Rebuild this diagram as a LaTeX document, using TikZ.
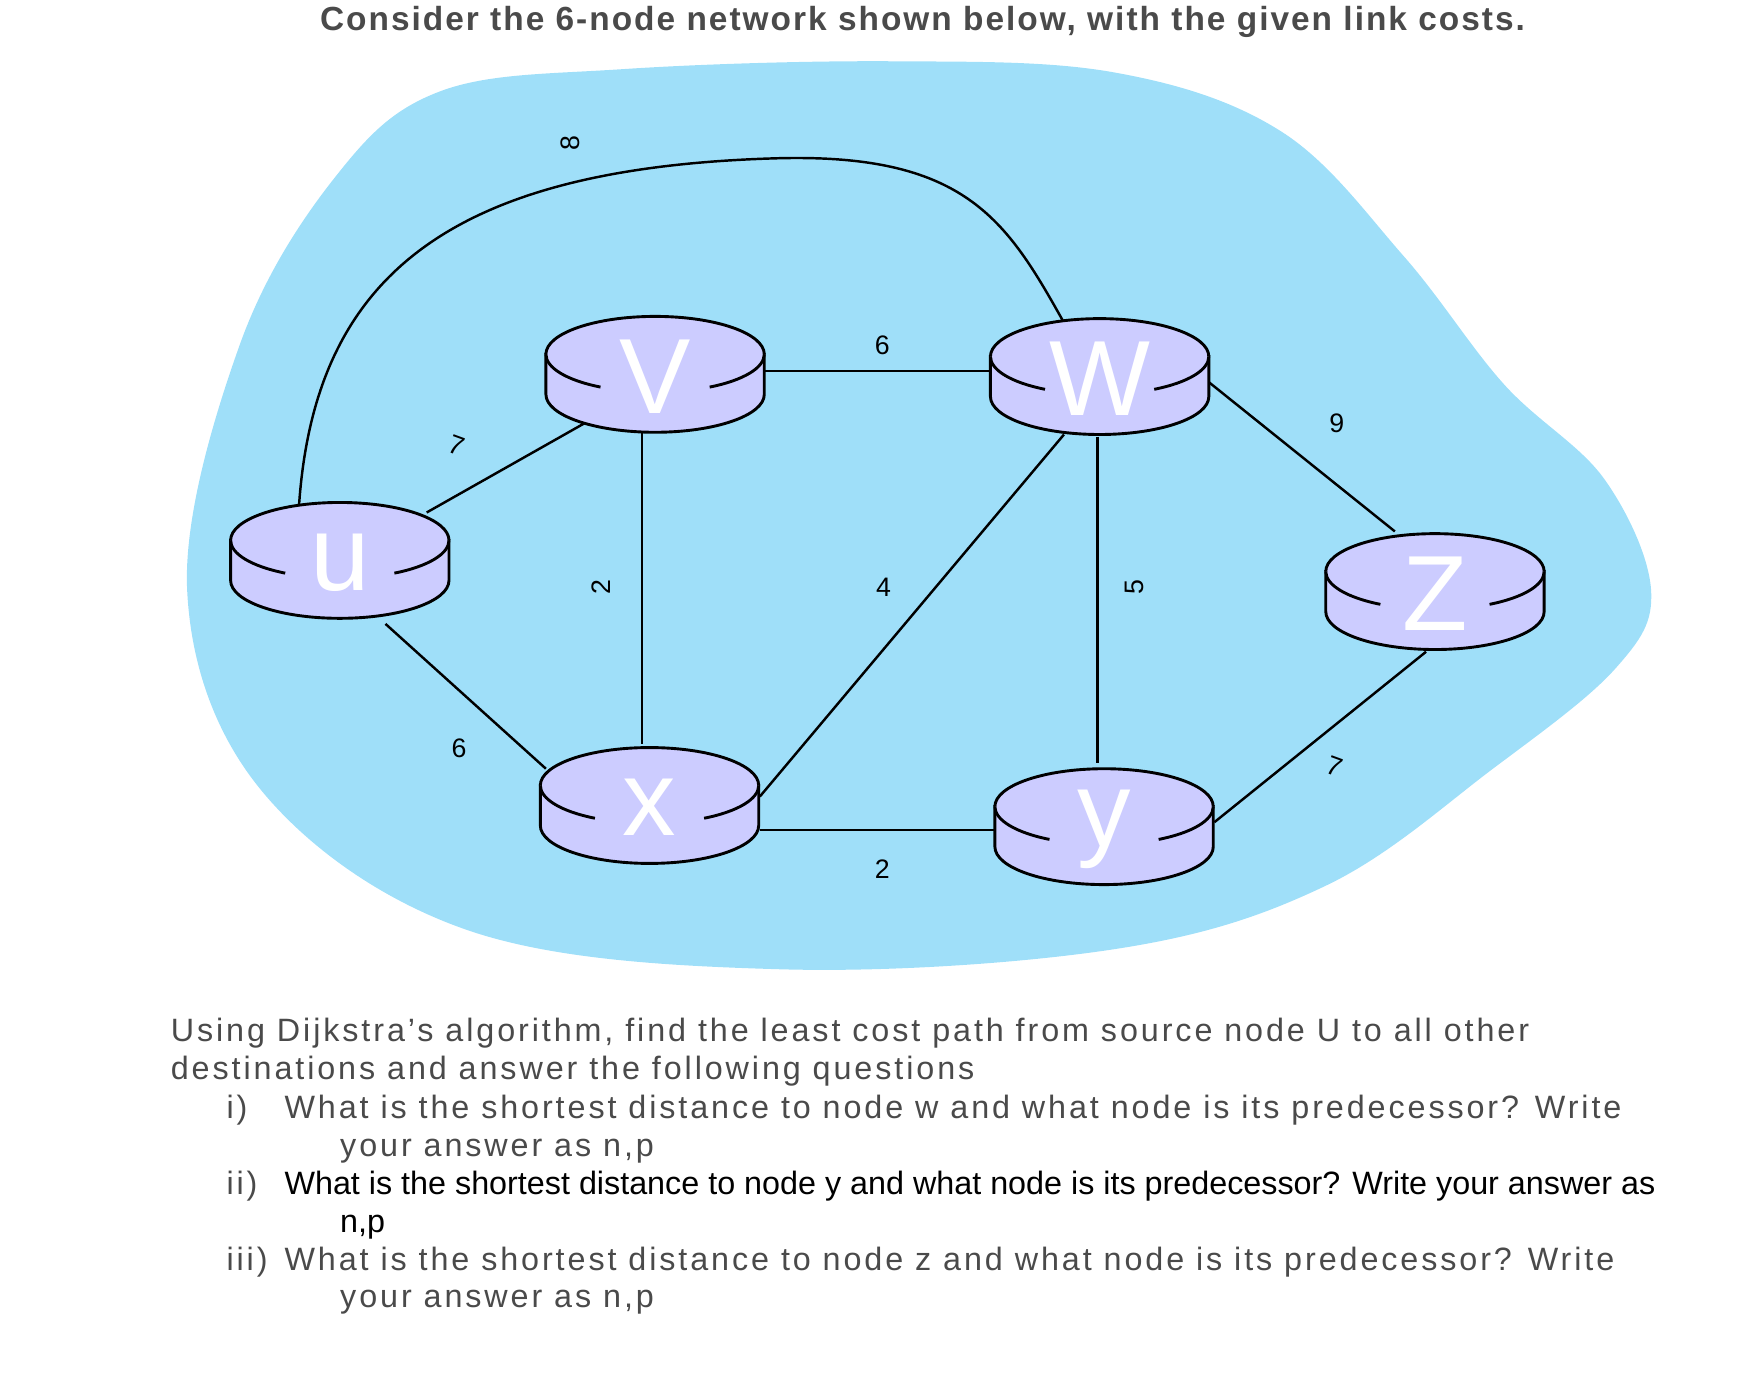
\documentclass[tikz,border=0pt]{standalone}
\usepackage{fontspec}
\setmainfont{Liberation Sans}
\definecolor{blob}{HTML}{9FDFF9}
\definecolor{lav}{HTML}{CCCCFF}
\definecolor{txt}{HTML}{4A4A4A}
\newcommand\myrouter[4]{%
 \begin{scope}[shift={(#2,#3)}]
  \filldraw[fill=lav,rline] (-98,0) -- (-98,36) arc[start angle=180,end angle=0,x radius=98,y radius=34] -- (98,0) -- cycle;
  \fill[lav] (0,0) ellipse[x radius=98,y radius=34];
  \draw[rline] (-98,0) arc[start angle=180,end angle=360,x radius=98,y radius=34];
  \draw[rline] (-98,0) arc[start angle=180,end angle=120,x radius=98,y radius=34];
  \draw[rline] (98,0) arc[start angle=0,end angle=60,x radius=98,y radius=34];
  \node[white,font=\fontsize{48}{48}\selectfont] (#1) at (0,20) {#4};
 \end{scope}}
\begin{document}
\begin{tikzpicture}[x=0.5pt,y=-0.5pt,
 rline/.style={line width=1.3pt},
 link/.style={line width=1.1pt},
 cost/.style={font=\fontsize{12}{12}\selectfont},
 ttl/.style={font=\bfseries\fontsize{15}{15}\selectfont\addfontfeature{LetterSpace=6},text=txt},
 body/.style={anchor=base west,inner sep=0pt,font=\fontsize{14.5}{14.5}\selectfont\addfontfeature{LetterSpace=9},text=txt}]
\useasboundingbox (0,0) rectangle (1560,1251);
\fill[blob] plot[smooth cycle,tension=0.6] coordinates {(395,82) (560,62) (800,55) (1000,65) (1150,118) (1260,230) (1350,345) (1440,430) (1482,530) (1450,600) (1340,690) (1190,795) (1000,852) (700,870) (420,835) (235,710) (168,530) (215,310) (300,160)};
\node[ttl] (title) at (828,20) {Consider the 6-node network shown below, with the given link costs.};
% attachment points
\coordinate (uv1) at (383,460); \coordinate (uv2) at (528,378);
\coordinate (vw1) at (687,333); \coordinate (vw2) at (890,333);
\coordinate (vx1) at (576,385); \coordinate (vx2) at (576,668);
\coordinate (ux1) at (346,560); \coordinate (ux2) at (490,690);
\coordinate (xw1) at (682,715); \coordinate (xw2) at (955,390);
\coordinate (xy1) at (682,745); \coordinate (xy2) at (893,745);
\coordinate (wy1) at (985,392); \coordinate (wy2) at (985,685);
\coordinate (wz1) at (1085,343); \coordinate (wz2) at (1252,477);
\coordinate (yz1) at (1090,738); \coordinate (yz2) at (1280,585);
\coordinate (uw1) at (268,460); \coordinate (uw2) at (958,295);
\draw[link] (uw1) .. controls (280,250) and (400,150) .. (700,142) .. controls (870,138) and (905,200) .. (uw2);
\draw[link] (uv1) -- (uv2); \draw[link] (vw1) -- (vw2); \draw[link] (vx1) -- (vx2);
\draw[link] (ux1) -- (ux2); \draw[link] (xw1) -- (xw2); \draw[link] (xy1) -- (xy2);
\draw[link] (wy1) -- (wy2); \draw[link] (wz1) -- (wz2); \draw[link] (yz1) -- (yz2);
\myrouter{u}{305}{485}{u}
\myrouter{v}{588}{318}{V}
\myrouter{w}{987}{320}{W}
\myrouter{x}{583}{705}{x}
\myrouter{y}{991}{724}{y}
\myrouter{z}{1288}{513}{Z}
\node[cost,rotate=90] (c8) at (512,128) {8};
\node[cost] (c6a) at (792,310) {6};
\node[cost,rotate=-20] (c7a) at (410,400) {7};
\node[cost] (c9) at (1200,380) {9};
\node[cost,rotate=90] (c2a) at (540,527) {2};
\node[cost] (c4) at (793,527) {4};
\node[cost,rotate=90] (c5) at (1018,527) {5};
\node[cost] (c6b) at (412,672) {6};
\node[cost,rotate=-20] (c7b) at (1198,688) {7};
\node[cost] (c2b) at (792,780) {2};
\node[body] (l1) at (153,935) {Using Dijkstra's algorithm, find the least cost path from source node U to all other};
\node[body] (l2) at (153,969) {destinations and answer the following questions};
\node[body] (l3a) at (203,1004) {i)};
\node[body] (l3) at (255,1004) {What is the shortest distance to node w and what node is its predecessor? Write};
\node[body] (l4) at (305,1038) {your answer as n,p};
\node[body] (l5a) at (203,1072) {ii)};
\node[body,text=black,font=\fontsize{14.5}{14.5}\selectfont] (l5) at (255,1072) {What is the shortest distance to node y and what node is its predecessor? Write your answer as};
\node[body,text=black,font=\fontsize{14.5}{14.5}\selectfont] (l6) at (305,1106) {n,p};
\node[body] (l7a) at (203,1140) {iii)};
\node[body] (l7) at (255,1140) {What is the shortest distance to node z and what node is its predecessor? Write};
\node[body] (l8) at (305,1174) {your answer as n,p};
\end{tikzpicture}
\end{document}
